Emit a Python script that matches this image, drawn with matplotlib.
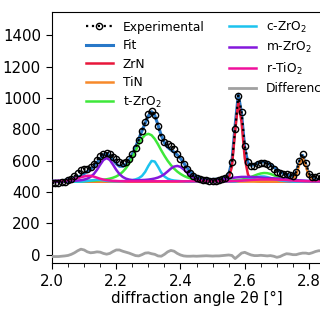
import numpy as np
import matplotlib
matplotlib.use("Agg")
import matplotlib.pyplot as plt
from matplotlib.ticker import MultipleLocator

# ---------------- data ----------------
two_theta = np.round(np.arange(2.00, 2.855, 0.01), 2)  # 2.00 ... 2.85

baseline = 466

experimental = [
    457, 458, 459, 462, 466, 474, 485, 500, 520, 538,
    547, 548, 557, 576, 604, 629, 645, 648, 641, 626,
    610, 594, 586, 592, 612, 641, 680, 731, 789, 849,
    898, 918, 890, 819, 751, 716, 703, 695, 676, 645,
    612, 577, 544, 519, 501, 487, 480, 476, 474, 472,
    471, 473, 475, 481, 491, 511, 588, 799, 1015, 911,
    695, 591, 567, 568, 579, 587, 586, 578, 568, 549,
    526, 518, 516, 516, 509, 504, 526, 598, 644, 586,
    516, 497, 498, 499, 497, 496,
]

# phase contributions above the background, each listed from its start angle
zrn_start = 2.53
zrn = [2, 6, 20, 95, 320, 510, 380, 150, 45, 14, 5, 2]

tin_start = 2.73
tin = [2, 5, 12, 40, 110, 155, 100, 35, 12, 5, 2]

t_zro2_start = 2.10
t_zro2 = [
    3, 4, 5, 6, 8, 10, 12, 15, 19, 25,
    33, 45, 62, 85, 115, 152, 195, 240, 275, 298,
    305, 296, 272, 238, 200, 165, 133, 106, 83, 64,
    49, 37, 28, 21, 16, 12, 9, 7, 5, 4,
    3, 3, 3, 3, 4, 5, 6, 8, 10, 13,
    17, 22, 30, 38, 46, 52, 55, 54, 49, 41,
    32, 25, 18, 13, 10, 7, 5, 4, 3, 2,
    2, 1, 1, 1, 1, 1,
]

c_zro2_start = 2.10
c_zro2 = [
    2, 4, 7, 10, 12, 11, 8, 5, 3, 2,
    2, 2, 3, 4, 6, 9, 14, 22, 36, 62,
    100, 132, 128, 95, 58, 33, 19, 11, 7, 5,
    3, 2, 0, 0, 0, 0, 0, 0, 0, 0,
    0, 0, 0, 0, 0, 0, 0, 0, 4, 6,
    9, 13, 18, 24, 30, 33, 33, 29, 23, 17,
    12, 8, 5, 3, 2,
]

m_zro2_start = 2.05
m_zro2 = [
    3, 4, 5, 7, 9,
    13, 19, 30, 48, 75, 108, 138, 150, 138, 108,
    75, 48, 30, 19, 13, 10, 9, 9, 10, 11,
    13, 16, 20, 26, 35, 48, 65, 83, 96, 100,
    94, 78, 58, 40, 26, 17, 12, 9, 8, 8,
    9, 10, 12, 14, 17, 20, 23, 26, 28, 30,
    30, 30, 30, 29, 28, 26, 24, 23, 22, 21,
    20, 19, 18, 16, 14, 12, 10, 8, 7, 6,
    5, 4, 4, 3, 3, 2,
]

r_tio2_start = 2.00
r_tio2 = [
    3, 4, 5, 6, 8, 10, 13, 17, 22, 28,
    33, 37, 37, 32, 25, 18, 13, 9, 7, 5,
    4, 3, 3, 2, 2, 2, 2, 2, 2, 2,
    2, 2, 2, 2, 2, 2, 2, 2, 2, 2,
    2, 2, 2, 2, 2, 2, 2, 2, 2, 2,
    2, 2, 2, 2, 2, 2, 3, 4, 5, 6,
    8, 9, 11, 12, 13, 14, 14, 14, 14, 14,
    13, 12, 11, 10, 8, 7, 5, 4, 3, 2,
    2, 2, 2, 2, 2, 2,
]

labels = ["Experimental", "Fit", "ZrN", "TiN", "t-ZrO$_2$",
          "c-ZrO$_2$", "m-ZrO$_2$", "r-TiO$_2$", "Difference"]


def excess(start, vals):
    arr = np.zeros(len(two_theta))
    i0 = int(round((start - two_theta[0]) / 0.01))
    arr[i0:i0 + len(vals)] = vals
    return arr


phases = [
    (excess(zrn_start, zrn), "#e8173a"),
    (excess(tin_start, tin), "#f7892a"),
    (excess(t_zro2_start, t_zro2), "#3ee83a"),
    (excess(c_zro2_start, c_zro2), "#1cc3ee"),
    (excess(m_zro2_start, m_zro2), "#8418dc"),
    (excess(r_tio2_start, r_tio2), "#f0109c"),
]

exp_arr = np.array(experimental, dtype=float)
fit = baseline + sum(p[0] for p in phases)
difference = exp_arr - fit

# ---------------- figure ----------------
fig = plt.figure(figsize=(3.2, 3.2), dpi=100)
ax = fig.add_axes([52 / 320, 1 - 262.5 / 320, 0.9035, (262.5 - 11.7) / 320])

ax.plot(two_theta, exp_arr, linestyle=":", color="k", lw=1.6, marker="o",
        ms=4.5, mfc="none", mec="k", mew=1.0, zorder=6, label=labels[0])
ax.plot(two_theta, fit, color="#2878c8", lw=2.2, zorder=4, label=labels[1])
for (vals, col), lab in zip(phases, labels[2:8]):
    ax.plot(two_theta, baseline + vals, color=col, lw=1.8, zorder=5, label=lab)
ax.plot(two_theta, difference, color="#a0a0a0", lw=2.0, zorder=3, label=labels[8])

ax.set_xlim(2.0, 2.9)
ax.set_ylim(-50, 1550)
ax.xaxis.set_major_locator(MultipleLocator(0.2))
ax.xaxis.set_minor_locator(MultipleLocator(0.05))
ax.yaxis.set_major_locator(MultipleLocator(200))
ax.tick_params(axis="both", which="major", labelsize=10.8, length=4.5)
ax.tick_params(axis="x", which="minor", length=3)
ax.set_xlabel("diffraction angle 2θ [°]", fontsize=10.8, labelpad=2)

ax.legend(ncol=2, loc="upper left", bbox_to_anchor=(86 / 320, 1 - 19.5 / 320),
          bbox_transform=fig.transFigure, frameon=False, borderpad=0,
          borderaxespad=0, fontsize=8.8, handlelength=2.2, labelspacing=0.45,
          columnspacing=2.0, handletextpad=0.8)

fig.savefig("out.png", dpi=100)
